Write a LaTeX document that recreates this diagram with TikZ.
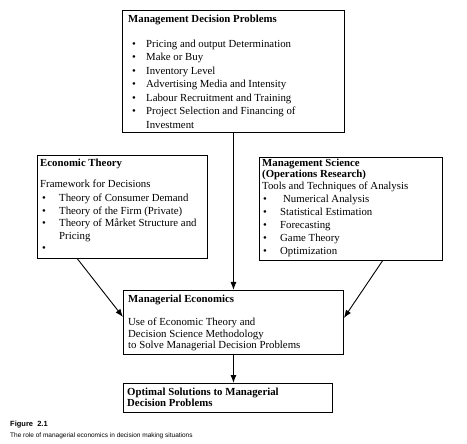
\documentclass[tikz,border=0pt]{standalone}
\usepackage{fontspec}
\setmainfont{Liberation Serif}
\setsansfont{Liberation Sans}
\usetikzlibrary{arrows.meta,positioning}
\tikzset{
  probbox/.style={draw, line width=0.9pt, anchor=north west, inner sep=0pt},
  boxtext/.style={anchor=north west, align=left, inner sep=0pt},
  arr/.style={-{Latex[length=8pt,width=6pt]}, line width=0.9pt},
  capt/.style={anchor=west, inner sep=0pt, font=\fontsize{6.5}{9}\sffamily}
}
\newcommand{\bitem}[2][14pt]{\makebox[#1][l]{\textbullet}#2}

\begin{document}
\begin{tikzpicture}[x=1pt,y=-1pt]
  \useasboundingbox (0,0) rectangle (467,444);
  % boxes
  \node[probbox, minimum width=222pt, minimum height=122pt] (prob) at (122,10) {};
  \node[probbox, minimum width=170pt, minimum height=103pt] (econ) at (37,155) {};
  \node[probbox, minimum width=183pt, minimum height=103pt] (sci) at (259,157) {};
  \node[probbox, minimum width=220pt, minimum height=64pt] (mgr) at (123,290) {};
  \node[probbox, minimum width=209pt, minimum height=29pt] (opt) at (123,383) {};
  % texts
  \node[boxtext, font=\fontsize{10.8}{13.5}\selectfont] (probtxt) at (128,15) {%
    \textbf{Management Decision Problems}\\[11pt]
    \hspace{4pt}\bitem{Pricing and output Determination}\\
    \hspace{4pt}\bitem{Make or Buy}\\
    \hspace{4pt}\bitem{Inventory Level}\\
    \hspace{4pt}\bitem{Advertising Media and Intensity}\\
    \hspace{4pt}\bitem{Labour Recruitment and Training}\\
    \hspace{4pt}\bitem{Project Selection and Financing of}\\
    \hspace{18pt}Investment};
  \node[boxtext, font=\fontsize{10.8}{12.5}\selectfont] (econtxt) at (40,159) {%
    \textbf{Economic Theory}\\[8.5pt]
    Framework for Decisions\\[1.5pt]
    \hspace{2pt}\bitem[17pt]{Theory of Consumer Demand}\\
    \hspace{2pt}\bitem[17pt]{Theory of the Firm (Private)}\\
    \hspace{2pt}\bitem[17pt]{Theory of M\r{a}rket Structure and}\\
    \hspace{19pt}Pricing\\
    \hspace{2pt}\bitem[17pt]{}};
  \node[boxtext, font=\fontsize{10.8}{13}\selectfont] (scitxt) at (262,159) {%
    \textbf{Management Science}\\[-2.5pt]
    \textbf{(Operations Research)}\\[-1pt]
    Tools and Techniques of Analysis\\
    \hspace{1pt}\bitem[17pt]{\hspace{3pt}Numerical Analysis}\\
    \hspace{1pt}\bitem[17pt]{Statistical Estimation}\\
    \hspace{1pt}\bitem[17pt]{Forecasting}\\
    \hspace{1pt}\bitem[17pt]{Game Theory}\\
    \hspace{1pt}\bitem[17pt]{Optimization}};
  \node[boxtext, font=\fontsize{10.8}{11.5}\selectfont] (mgrtxt) at (128,295) {%
    \textbf{Managerial Economics}\\[11.5pt]
    Use of Economic Theory and\\
    Decision Science Methodology\\
    to Solve Managerial Decision Problems};
  \node[boxtext, font=\fontsize{10.8}{11}\selectfont] (opttxt) at (127,388) {%
    \textbf{Optimal Solutions to Managerial}\\
    \textbf{Decision Problems}};
  % caption
  \node[capt, font=\fontsize{7.5}{9}\sffamily\bfseries] (fig) at (10,425) {Figure~~2.1};
  \node[capt] (figtxt) at (10,436) {The role of managerial economics in decision making situations};
  % connectors
  \draw[arr] (prob.south) -- (mgr.north);
  \draw[arr] ([xshift=-45pt]econ.south) -- ([yshift=-27pt]mgr.north west);
  \draw[arr] ([xshift=31.5pt]sci.south) -- ([yshift=-28pt]mgr.north east);
  \draw[arr] (mgr.south) -- (mgr.south |- opt.north);
\end{tikzpicture}
\end{document}
